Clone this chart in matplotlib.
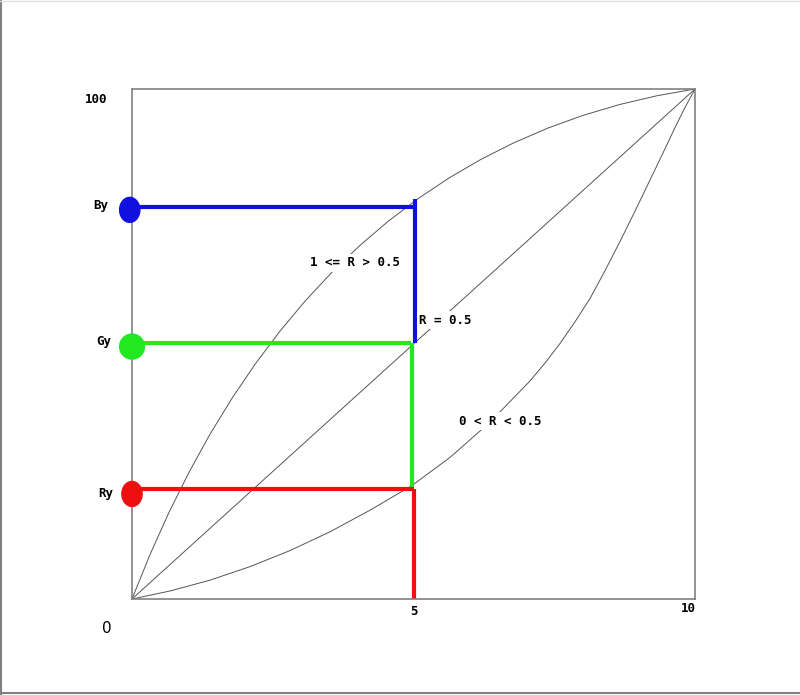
import matplotlib
matplotlib.use("Agg")
import matplotlib.pyplot as plt
from matplotlib.patches import Ellipse

# Curvas (x de 0 a 10, y de 0 a 100)
curva_sup_x = [0, 0.318, 0.655, 1.012, 1.387, 1.782, 2.196, 2.629, 3.081, 3.552,
               4.043, 4.552, 5.081, 5.629, 6.196, 6.782, 7.387, 8.012, 8.655,
               9.318, 10]
curva_sup_y = [0, 8.66, 16.94, 24.83, 32.34, 39.46, 46.19, 52.54, 58.50, 64.08,
               69.27, 74.08, 78.50, 82.54, 86.19, 89.45, 92.34, 94.83, 96.94,
               98.66, 100]

curva_inf_x = [0, 0.675, 1.385, 2.096, 2.806, 3.517, 4.227, 4.973, 5.648, 6.359,
               7.069, 7.336, 7.602, 7.869, 8.135, 8.401, 8.668, 8.934, 9.201,
               9.423, 9.645, 9.822, 10]
curva_inf_y = [0, 1.57, 3.69, 6.35, 9.49, 13.18, 17.41, 22.25, 27.76, 34.67,
               42.75, 46.27, 50.10, 54.36, 58.92, 64.36, 70.10, 76.04, 82.16,
               87.25, 92.45, 96.37, 100]

diag_x = [0, 10]
diag_y = [0, 100]

# Valores de cada canal en x = 5
x_medio = 5
by = 76.9
gy = 50.2
ry = 21.6

etiquetas_y = ["By", "Gy", "Ry"]
etiquetas_r = ["1 <= R > 0.5", "R = 0.5", "0 < R < 0.5"]

azul = "#1010e0"
verde = "#22e822"
rojo = "#ee1010"
gris = "#808080"

fig = plt.figure(figsize=(8, 6.95), dpi=100)
ax = fig.add_axes([132 / 800, 96 / 695, 563 / 800, 510 / 695])
ax.set_xlim(0, 10)
ax.set_ylim(0, 100)
ax.set_xticks([])
ax.set_yticks([])
for s in ax.spines.values():
    s.set_color(gris)
    s.set_linewidth(1.2)

# Curvas grises
ax.plot(curva_sup_x, curva_sup_y, color="#555555", lw=0.7)
ax.plot(diag_x, diag_y, color="#555555", lw=0.7)
ax.plot(curva_inf_x, curva_inf_y, color="#555555", lw=0.7)

# Lineas de colores
lw = 3.0
ax.plot([0, x_medio], [by, by], color=azul, lw=lw, solid_capstyle="butt")
ax.plot([x_medio + 0.02, x_medio + 0.02], [by + 1.5, gy], color=azul, lw=lw, solid_capstyle="butt")
ax.plot([0, x_medio - 0.05], [gy, gy], color=verde, lw=lw, solid_capstyle="butt")
ax.plot([x_medio - 0.03, x_medio - 0.03], [gy, ry], color=verde, lw=lw, solid_capstyle="butt")
ax.plot([0, x_medio], [ry, ry], color=rojo, lw=lw, solid_capstyle="butt")
ax.plot([x_medio, x_medio], [ry, 0], color=rojo, lw=lw, solid_capstyle="butt", clip_on=False)

# Puntos en el eje y
ax.add_patch(Ellipse((-0.04, 76.3), 0.36, 4.9, color=azul, clip_on=False, zorder=5))
ax.add_patch(Ellipse((0.0, 49.5), 0.44, 4.9, color=verde, clip_on=False, zorder=5))
ax.add_patch(Ellipse((0.0, 20.6), 0.36, 4.9, color=rojo, clip_on=False, zorder=5))

fuente = dict(family="DejaVu Sans Mono", fontsize=9, fontweight="bold")
ax.text(-0.64, 98.0, "100", ha="center", va="center", clip_on=False, **fuente)
ax.text(-0.55, 77.1, etiquetas_y[0], ha="center", va="center", clip_on=False, **fuente)
ax.text(-0.50, 50.4, etiquetas_y[1], ha="center", va="center", clip_on=False, **fuente)
ax.text(-0.46, 20.6, etiquetas_y[2], ha="center", va="center", clip_on=False, **fuente)
ax.text(5.0, -2.5, "5", ha="center", va="center", clip_on=False, **fuente)
ax.text(9.89, -1.8, "10", ha="center", va="center", clip_on=False, **fuente)
ax.text(-0.44, -5.7, "0", ha="center", va="center", clip_on=False,
        family="DejaVu Sans", fontsize=11)

caja = dict(facecolor="white", edgecolor="none", pad=1.5)
ax.text(3.96, 65.9, etiquetas_r[0], ha="center", va="center", bbox=caja, **fuente)
ax.text(5.10, 54.7, etiquetas_r[1], ha="left", va="center", bbox=caja, **fuente)
ax.text(6.54, 34.9, etiquetas_r[2], ha="center", va="center", bbox=caja, **fuente)

# Marco exterior de la imagen
fig.add_artist(plt.Line2D([0.001, 0.001], [0, 1], color=gris, lw=1.5))
fig.add_artist(plt.Line2D([0, 1], [0.003, 0.003], color=gris, lw=1.5))
fig.add_artist(plt.Line2D([0, 1], [0.999, 0.999], color="#dddddd", lw=1))

fig.savefig("out.png", dpi=100)
